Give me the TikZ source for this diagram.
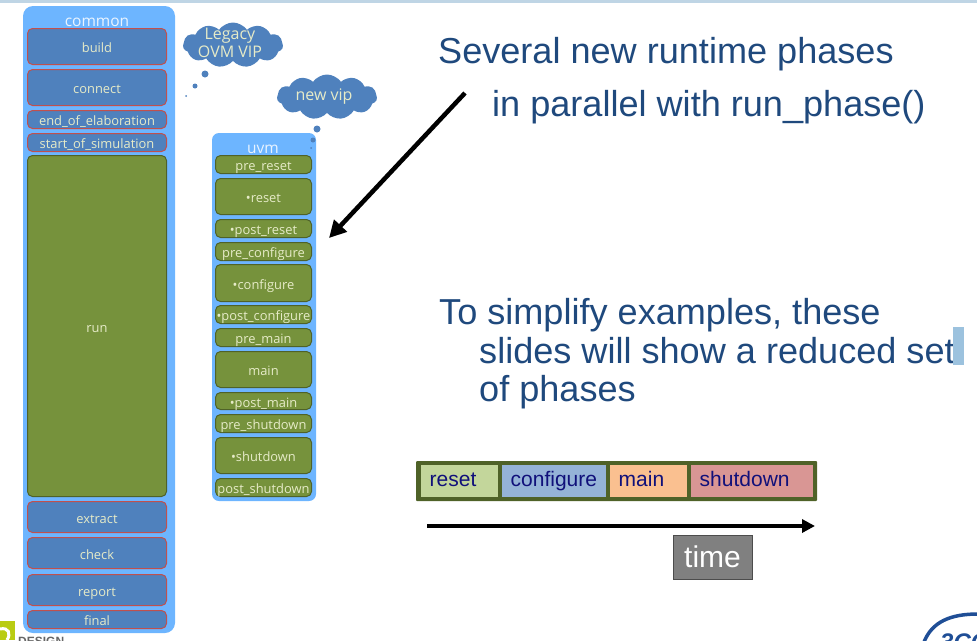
\documentclass[tikz,border=0pt]{standalone}
\usepackage{fontspec}
\setmainfont{Liberation Sans}
\newfontfamily\phasefont{Open Sans}
\usetikzlibrary{shapes.symbols,arrows.meta}

\definecolor{paneblue}{HTML}{6DB5FF}
\definecolor{phaseblue}{HTML}{4F81BD}
\definecolor{phasered}{HTML}{C0504D}
\definecolor{phasegreen}{HTML}{76923C}
\definecolor{phaseedge}{HTML}{4F6228}
\definecolor{phasetext}{HTML}{E6EBC8}
\definecolor{slidetext}{HTML}{1F497D}
\definecolor{celltext}{HTML}{10107A}
\definecolor{stripblue}{HTML}{BFD5E5}
\definecolor{cursorblue}{HTML}{9CC2DE}
\definecolor{logolime}{HTML}{B9CC12}
\definecolor{logoblue}{HTML}{1F4E96}

\tikzset{
  px/.style={x=1pt,y=-1pt},
  pane/.style={draw=none,fill=paneblue,rounded corners=10pt},
  panetitle/.style={text=white!85!paneblue,font=\phasefont\fontsize{15.5}{15.5}\selectfont,inner sep=0pt},
  phase/.style={rounded corners=5pt,line width=1pt,text=phasetext,text height=12pt,text depth=0pt,font=\phasefont\fontsize{12.9}{13}\selectfont,inner sep=0pt},
  oldphase/.style={phase,draw=phasered,fill=phaseblue},
  newphase/.style={phase,draw=phaseedge,fill=phasegreen},
  thought/.style={cloud,cloud puffs=11,cloud puff arc=110,aspect=2.2,fill=phaseblue,inner sep=0pt,minimum width=100pt,minimum height=45pt},
  thoughttext/.style={text=phasetext,inner sep=0pt,align=center,font=\phasefont\fontsize{16}{18.5}\selectfont},
  dot/.style={circle,fill=phaseblue,inner sep=0pt},
  slide/.style={text=slidetext,anchor=base west,inner sep=0pt,font=\fontsize{36.1}{36}\selectfont},
  cell/.style={draw=none,text=celltext,anchor=base west,inner sep=0pt,font=\fontsize{21}{21}\selectfont},
}

\begin{document}
\begin{tikzpicture}[px]
  \useasboundingbox (0,0) rectangle (977,640);

  % top edge of the slide
  \fill[stripblue] (0,0) rectangle (977,3);

  % logos cut by the page
  \fill[logolime] (0,621) rectangle (15,640);
  \draw[white,line width=3pt] (0,629) .. controls (9,627) and (11,634) .. (7,640);
  \node[text=black!60,anchor=base west,inner sep=0pt,font=\bfseries\fontsize{12}{12}\selectfont] (design) at (18,645.5) {DESIGN};
  \draw[logoblue,line width=3.5pt] (924,642) .. controls (932,622) and (950,614) .. (978,614);
  \node[text=logoblue,anchor=base west,inner sep=0pt,font=\bfseries\itshape\fontsize{24}{24}\selectfont] (dvcon) at (940,650) {3CC};

  % common phases
  \node[pane,minimum width=152pt,minimum height=627pt] (common) at (99,319.5) {};
  \node[panetitle] (commontitle) at (97,22) {common};
  \foreach \name/\label/\top/\bottom/\kind in {
      build/build/28/65/oldphase, connect/connect/69/106/oldphase,
      elab/end\_of\_elaboration/110/129/oldphase, simstart/start\_of\_simulation/133/152/oldphase,
      run/run/155/497/newphase, extract/extract/501/533/oldphase,
      check/check/537/569/oldphase, report/report/574/606/oldphase,
      final/final/610/629/oldphase} {
    \node[\kind,minimum width=139pt,minimum height=\bottom pt-\top pt-1pt] (\name) at (97,{(\top+\bottom)/2}) {\label};
  }

  % uvm phases
  \node[pane,rounded corners=7pt,minimum width=104pt,minimum height=368pt] (uvm) at (264,317) {};
  \node[panetitle] (uvmtitle) at (263,149) {uvm};
  \foreach \name/\label/\top/\bottom in {
      prereset/pre\_reset/155/174, reset/\textbullet reset/178/215,
      postreset/\textbullet post\_reset/219/238, preconfigure/pre\_configure/242/261,
      configure/\textbullet configure/264/302, postconfigure/\textbullet post\_configure/305/324,
      premain/pre\_main/328/347, main/main/351/388,
      postmain/\textbullet post\_main/392/410, preshutdown/pre\_shutdown/414/433,
      shutdown/\textbullet shutdown/437/474, postshutdown/post\_shutdown/478/497} {
    \node[newphase,minimum width=96pt,minimum height=\bottom pt-\top pt-1pt] (\name) at (263.5,{(\top+\bottom)/2}) {\label};
  }

  % clouds
  \node[thought] (legacy) at (233,45) {};
  \node[thoughttext] (legacytext) at (230,43) {Legacy\\OVM VIP};
  \node[dot,minimum size=7pt] (legacya) at (205,74) {};
  \node[dot,minimum size=5pt] (legacyb) at (195,86) {};
  \node[dot,minimum size=2pt] (legacyc) at (186,96) {};
  \node[thought] (newvip) at (327,97) {};
  \node[thoughttext] (newviptext) at (324,97) {new vip};
  \node[dot,minimum size=7pt] (newvipa) at (317,129) {};
  \node[dot,minimum size=5pt] (newvipb) at (313,140) {};
  \node[dot,minimum size=2pt] (newvipc) at (311,148) {};

  % text on the right
  \node[slide] (several) at (438,63) {Several new runtime phases};
  \node[slide] (parallel) at (492,116) {in parallel with run\_phase()};
  \coordinate (from) at (465,93);
  \coordinate (to) at (329,238);
  \draw[line width=4.5pt,-{Triangle[length=17pt,width=17pt]}] (from) -- (to);
  \node[slide] (simplify) at (439,324) {To simplify examples, these};
  \node[slide] (slides) at (479,363) {slides will show a reduced set};
  \node[slide] (ofphases) at (479,401) {of phases};
  \node[fill=cursorblue,minimum width=11pt,minimum height=38pt,inner sep=0pt] (cursor) at (958.5,346) {};

  % time line
  \node[fill=phaseedge,rounded corners=1pt,minimum width=401pt,minimum height=40pt] (band) at (616.5,481) {};
  \foreach \name/\label/\left/\right/\tint in {
      creset/reset/421/498/C3D69B, cconfigure/configure/502/606/95B3D7,
      cmain/main/610/687/FAC090, cshutdown/shutdown/691/813/D99694} {
    \definecolor{tint}{HTML}{\tint}
    \fill[tint] (\left,465) rectangle (\right,497);
    \node[cell] (\name) at (\left+8.5,486.5) {\label};
  }
  \coordinate (tstart) at (427,526);
  \coordinate (tend) at (815,526);
  \draw[line width=4pt,-{Triangle[length=13pt,width=13pt]}] (tstart) -- (tend);
  \node[draw=black!70,fill=black!50,text=white,minimum width=79pt,minimum height=44pt,inner sep=0pt,font=\fontsize{30}{30}\selectfont] (time) at (712.5,557) {time};
\end{tikzpicture}
\end{document}
